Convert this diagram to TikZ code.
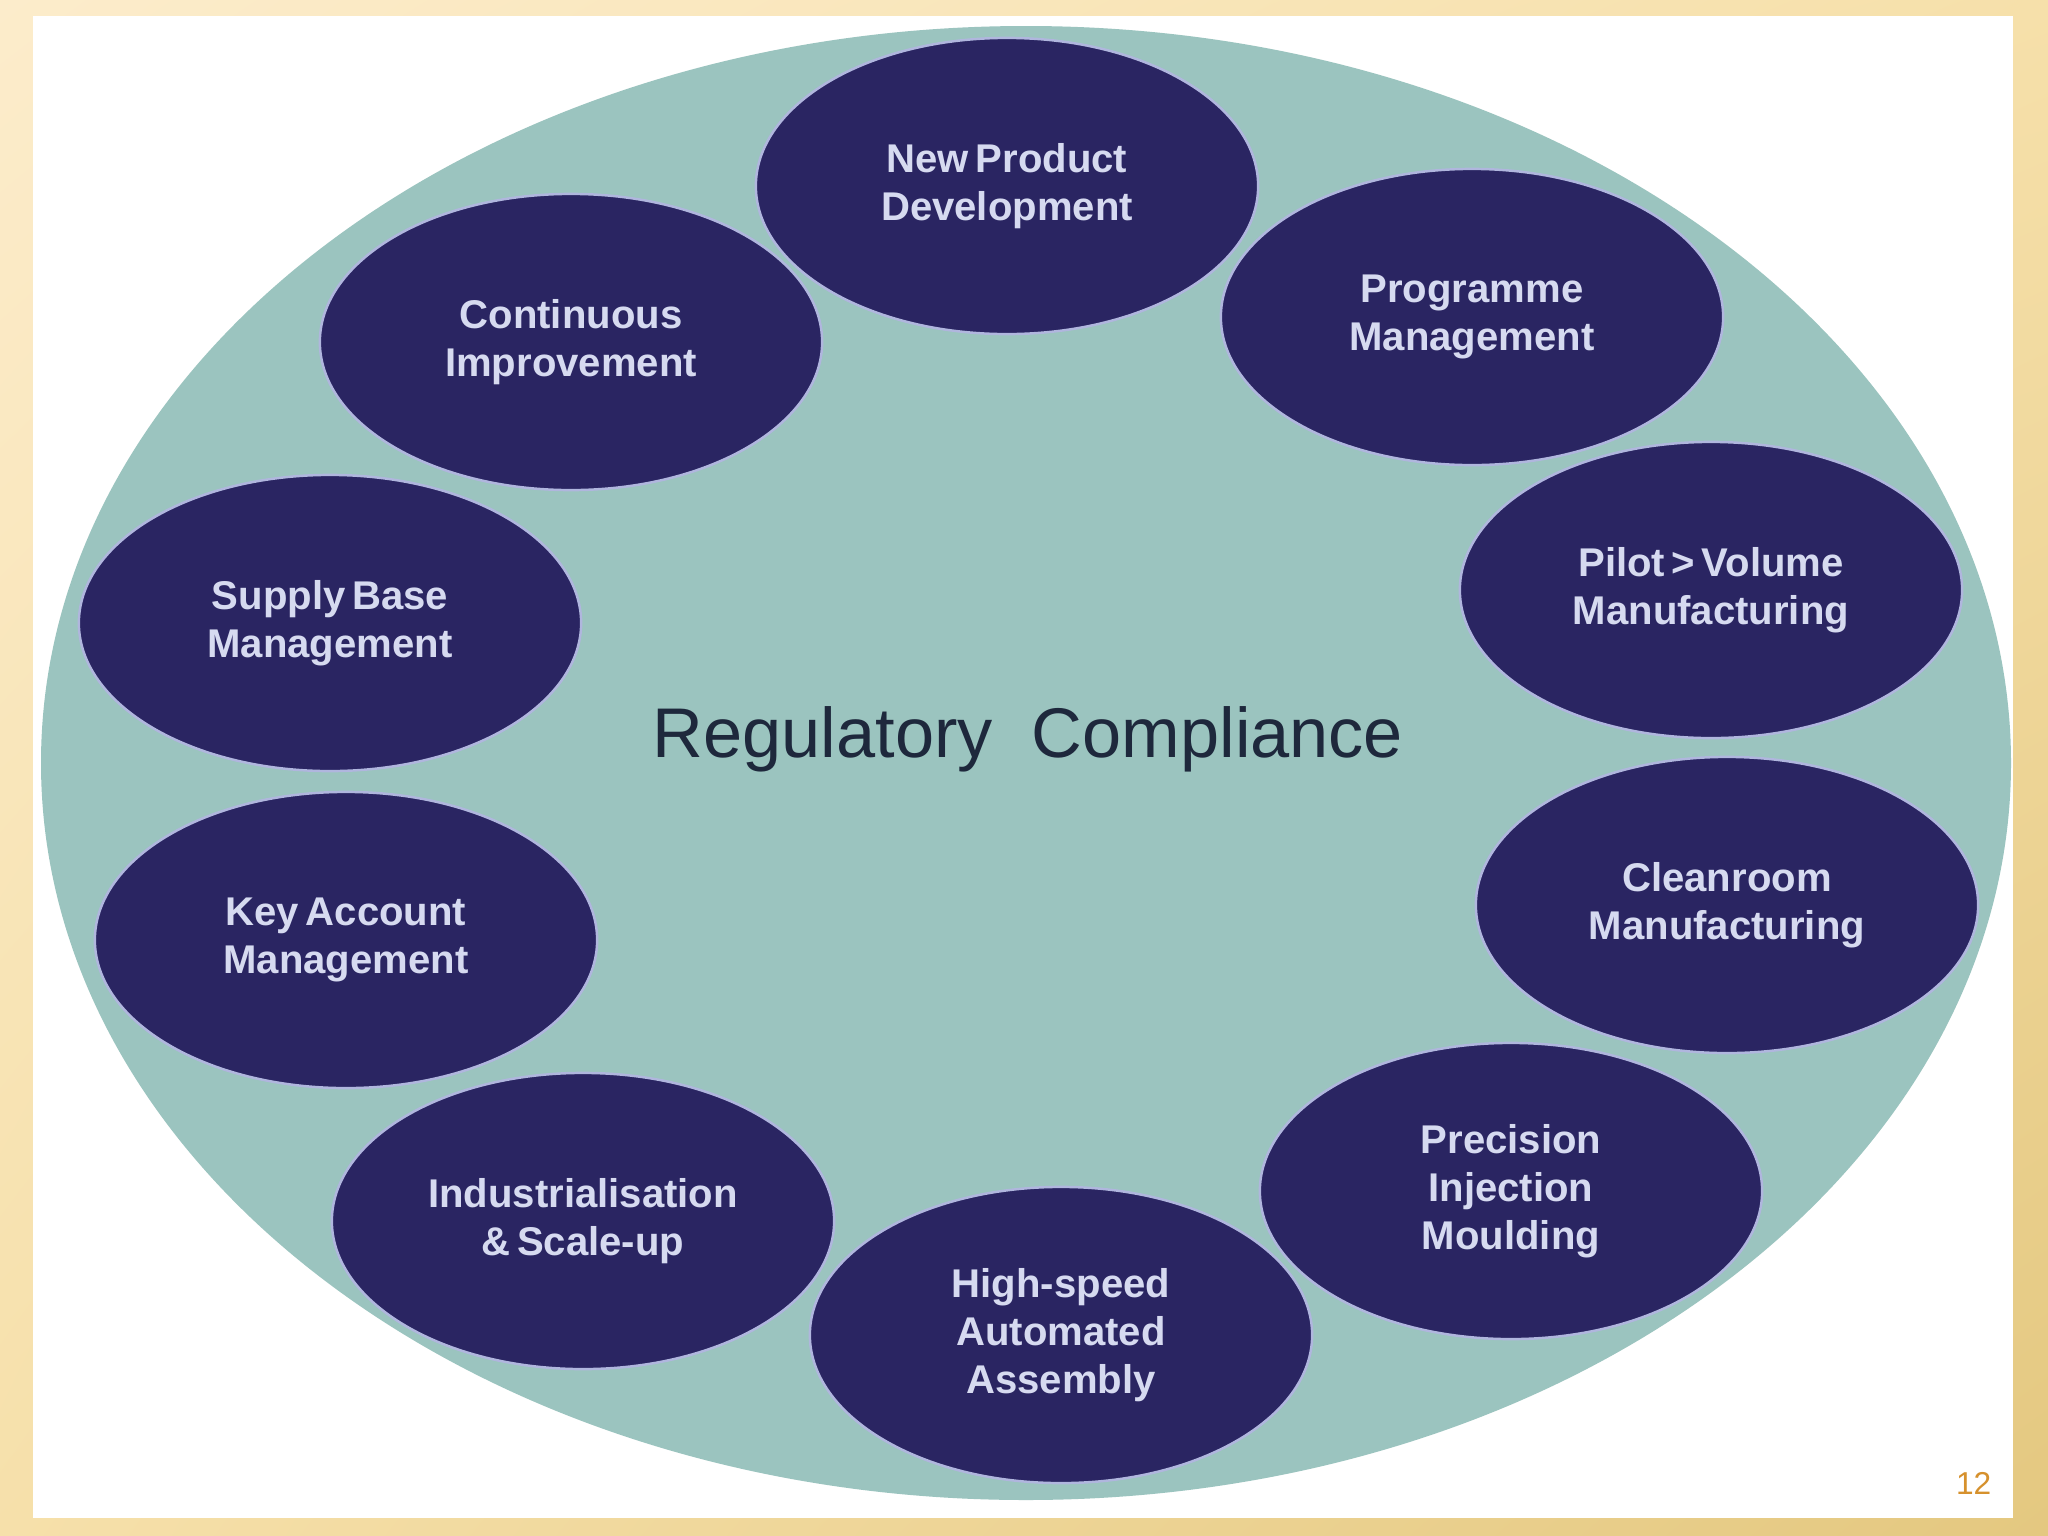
\documentclass[tikz,border=0pt]{standalone}
\usepackage{fontspec}
\setmainfont{Liberation Sans}
\usetikzlibrary{shapes.geometric, shadings}

\definecolor{frameLight}{RGB}{252,236,203}
\definecolor{frameGold}{RGB}{228,200,128}
\definecolor{frameMid}{RGB}{246,224,170}
\definecolor{poolTeal}{RGB}{155,196,191}
\definecolor{areaNavy}{RGB}{42,37,98}
\definecolor{areaRim}{RGB}{176,182,222}
\definecolor{areaText}{RGB}{214,218,240}
\definecolor{titleInk}{RGB}{30,40,60}
\definecolor{pageGold}{RGB}{214,145,45}

\begin{document}
\begin{tikzpicture}[x=0.01cm, y=-0.01cm,
    every node/.style={font=\bfseries\fontsize{11.4pt}{13.7pt}\selectfont},
    area/.style={ellipse, fill=areaNavy, draw=areaRim, line width=0.7pt,
        text=areaText, align=center, inner sep=0pt,
        minimum width=5.02cm, minimum height=2.96cm}]
    % Slide frame and page
    \useasboundingbox (0,0) rectangle (2048,1536);
    \shade[upper left=frameLight, upper right=frameMid,
        lower left=frameMid, lower right=frameGold] (0,0) rectangle (2048,1536);
    \fill[white] (33,16) rectangle (2013,1518);

    % Big teal ellipse
    \fill[poolTeal] (1026,763) ellipse [x radius=985, y radius=737];

    % Title in the middle
    \node[anchor=base, text=titleInk, font=\fontsize{20pt}{24pt}\selectfont]
        (title) at (1028,757) {Regulatory\ \ Compliance};

    % Ring of areas, clockwise from the top
    \node[area] (newprod) at (1007,186) {New\,Product\\Development};
    \node[area] (programme) at (1472,317) {Programme\\Management};
    \node[area] (pilot) at (1711,590) {Pilot\,>\,Volume\\Manufacturing};
    \node[area] (cleanroom) at (1727,905) {Cleanroom\\Manufacturing};
    \node[area] (precision) at (1511,1191) {Precision\\Injection\\Moulding};
    \node[area] (highspeed) at (1061,1335) {High-speed\\Automated\\Assembly};
    \node[area] (industr) at (583,1221) {Industrialisation\\\&\,Scale-up};
    \node[area] (keyacc) at (346,940) {Key\,Account\\Management};
    \node[area] (supply) at (330,623) {Supply\,Base\\Management};
    \node[area] (contimp) at (571,342) {Continuous\\Improvement};

    % Page number
    \node[anchor=base east, inner sep=0pt, text=pageGold,
        font=\fontsize{9pt}{10pt}\selectfont] (pagenum) at (1992,1494) {12};
\end{tikzpicture}
\end{document}
